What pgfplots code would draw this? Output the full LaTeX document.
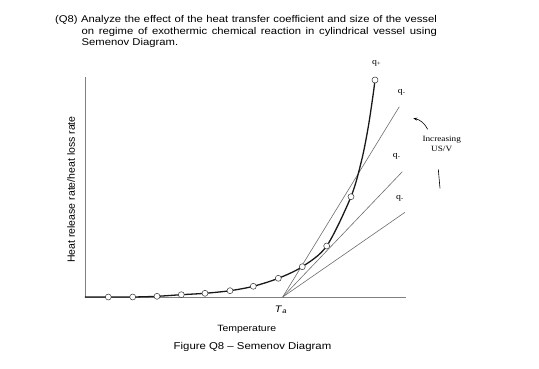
\documentclass[border=0pt]{standalone}
\usepackage{pgfplots}
\pgfplotsset{compat=1.18}
\usetikzlibrary{arrows.meta}
\usepackage{fontspec}
\setmainfont[FakeStretch=1.15]{Liberation Sans}
\newfontfamily\plainsans{Liberation Sans}
\newfontfamily\serif[FakeStretch=1.15]{Liberation Serif}
\begin{document}
\begin{tikzpicture}
\path[use as bounding box] (-85pt,-71pt) rectangle (454pt,297pt);
\begin{axis}[
  anchor=origin, at={(0pt,0pt)},
  x=1pt, y=1pt, xmin=0, xmax=321, ymin=0, ymax=220,
  axis lines=left, axis line style={-, draw=gray, line width=0.8pt},
  xtick=\empty, ytick=\empty, clip=false,
]
% heat loss lines (q-)
\addplot[gray!85!black, line width=0.6pt] coordinates {(197.7,0) (314.3,190.3)};
\addplot[gray!85!black, line width=0.6pt] coordinates {(197.7,0) (317.3,125.3)};
\addplot[gray!85!black, line width=0.6pt] coordinates {(197.7,0) (320,84.7)};
% heat release curve (q+)
\addplot[black!90, line width=1.3pt, smooth] coordinates {
 (0,0) (23.3,0) (47.7,0) (72,0.7) (96.3,2.3) (120,3.7) (145,6.3)
 (168.3,10.7) (193.3,18.7) (217.3,30.3) (241.7,51) (266,100.3)
 (276.7,137) (283.3,170.3) (288.3,203.7) (290,217)};
\addplot[only marks, mark=*, mark size=3pt,
  mark options={fill=white, draw=gray!40!black, line width=0.5pt}] coordinates {
 (23.3,0) (47.7,0) (72,0.7) (96.3,2.3) (120,3.7) (145,6.3)
 (168.3,10.7) (193.3,18.7) (217.3,30.3) (241.7,51) (266,100.3) (290,217)};
\node[font=\serif\fontsize{8.5}{10}\selectfont] at (axis cs:291.7,233.7) {q\textsubscript{+}};
\node[font=\serif\fontsize{8.5}{10}\selectfont] at (axis cs:316.7,204.3) {q\textsubscript{-}};
\node[font=\serif\fontsize{8.5}{10}\selectfont] at (axis cs:311.7,140.3) {q\textsubscript{-}};
\node[font=\serif\fontsize{8.5}{10}\selectfont] at (axis cs:315,98.7) {q\textsubscript{-}};
\end{axis}
% annotations
\node[font=\serif\fontsize{8}{10}\selectfont, align=center] at (356.7pt,152.7pt) {Increasing\\US/V};
\draw[-{Stealth[length=4pt,width=3pt]}, line width=0.6pt] (342.7pt,167.7pt) to[bend right=25] (328.3pt,178.7pt);
\draw[line width=0.6pt] (353.3pt,127.7pt) -- (355pt,108.7pt);
% labels
\node[rotate=90, font=\plainsans\fontsize{10.5}{12}\selectfont] at (-14pt,107.5pt) {Heat release rate/heat loss rate};
\node[font=\fontsize{9.5}{11}\selectfont] at (196pt,-13pt) {\textit{T}\textsubscript{\textit{a}}};
\node[font=\fontsize{9.1}{11}\selectfont] at (161.7pt,-32.3pt) {Temperature};
\node[font=\fontsize{9.9}{12}\selectfont] at (167.5pt,-50pt) {Figure Q8 -- Semenov Diagram};
\node[anchor=north west, inner sep=0pt, text width=381.7pt, align=justify,
  font=\fontsize{9.8}{11.8}\selectfont] at (-30pt,282pt)
  {\hangindent=26.5pt \hangafter=1 (Q8) Analyze the effect of the heat transfer coefficient and size of the vessel\linebreak on regime of exothermic chemical reaction in cylindrical vessel using\linebreak Semenov Diagram.\par};
\end{tikzpicture}
\end{document}
